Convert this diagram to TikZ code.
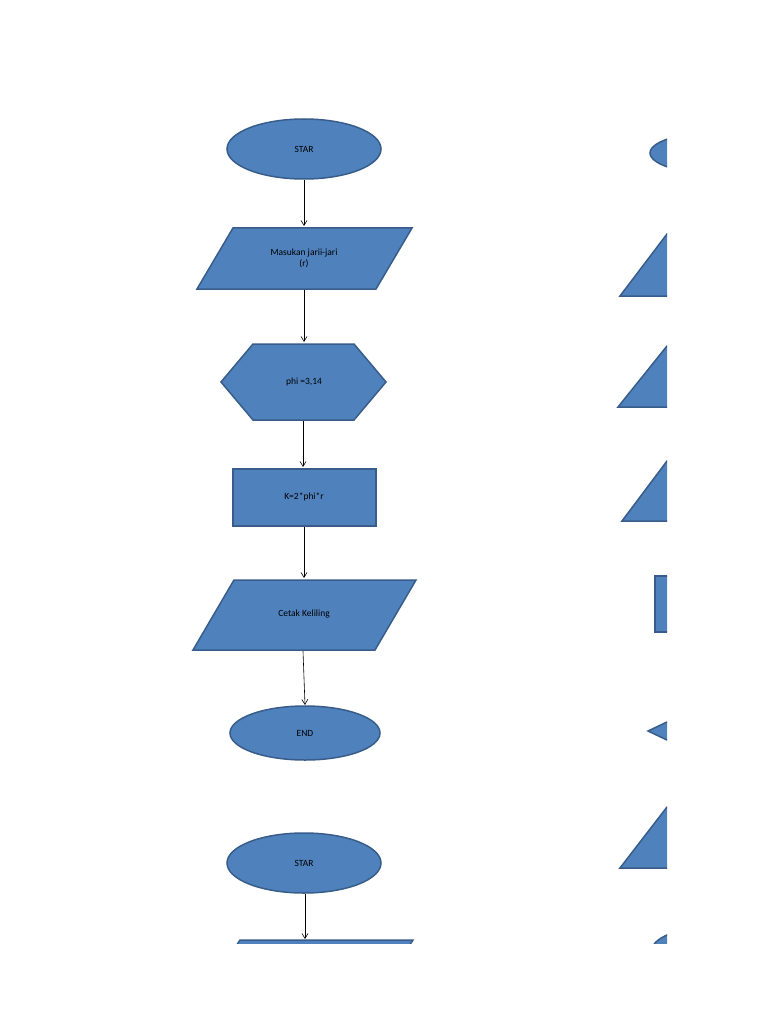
\documentclass[tikz,border=0pt]{standalone}
\usepackage{fontspec}
\setmainfont{Carlito}
\usetikzlibrary{arrows.meta}
\definecolor{fillb}{HTML}{4F81BD}
\definecolor{edgeb}{HTML}{385D8A}
\begin{document}
\begin{tikzpicture}[x=1pt,y=-1pt,
  shp/.style={fill=fillb,draw=edgeb,line width=1.5pt},
  txt/.style={font=\fontsize{9.5}{11}\selectfont,align=center,text=black},
  arr/.style={-{Straight Barb[length=5pt,width=6pt]},line width=0.6pt}]
\useasboundingbox[fill=white] (0,0) rectangle (768,1024);
\begin{scope}
\clip (0,0) rectangle (667,943);
% left column
\draw[shp] (304,149) ellipse (77 and 30);
\node[txt] (s1) at (304,149) {STAR};
\coordinate (s1b) at (304,180);
\draw[shp] (233,228) -- (412,228) -- (376,289) -- (197,289) -- cycle;
\node[txt] (in1) at (304,258) {Masukan jarii-jari\\(r)};
\coordinate (in1t) at (304,226); \coordinate (in1b) at (304,290);
\draw[shp] (221,382) -- (253,344) -- (354,344) -- (386,382) -- (354,420) -- (253,420) -- cycle;
\node[txt] (hx) at (304,382) {phi =3,14};
\coordinate (hxt) at (304,342); \coordinate (hxb) at (303,421);
\draw[shp] (233,469) rectangle (376,526);
\node[txt] (pr) at (304,497) {K=2*phi*r};
\coordinate (prt) at (303,467); \coordinate (prb) at (304,527);
\draw[shp] (234,580) -- (416,580) -- (375,650) -- (193,650) -- cycle;
\node[txt] (out) at (304,614) {Cetak Keliling};
\coordinate (outt) at (304,578); \coordinate (outb) at (303,651);
\draw[shp] (305,733) ellipse (75 and 27);
\node[txt] (e1) at (305,733) {END};
\coordinate (e1t) at (305,705);
\draw[shp] (304,863) ellipse (77 and 30);
\node[txt] (s2) at (304,863) {STAR};
\coordinate (s2b) at (305,894);
\draw[shp] (240,940) -- (413,940) -- (400,960) -- (227,960) -- cycle;
\coordinate (in2t) at (305,939);
\draw[arr] (s1b) -- (in1t);
\draw[arr] (in1b) -- (hxt);
\draw[arr] (hxb) -- (prt);
\draw[arr] (prb) -- (outt);
\draw[arr] (outb) -- (e1t);
\draw[arr] (s2b) -- (in2t);
% right column (cut off)
\draw[shp] (727,153) ellipse (77 and 22);
\draw[shp] (667,234) -- (720,234) -- (700,296) -- (620,296) -- cycle;
\draw[shp] (667,346) -- (720,346) -- (700,407) -- (618,407) -- cycle;
\draw[shp] (667,461) -- (720,461) -- (700,521) -- (622,521) -- cycle;
\draw[shp] (655,576) rectangle (720,632);
\draw[shp] (648,731) -- (667,722) -- (720,722) -- (720,740) -- (667,740) -- cycle;
\draw[shp] (667,807) -- (720,807) -- (700,868) -- (620,868) -- cycle;
\draw[shp] (727,950) ellipse (75 and 25);
\end{scope}
\end{tikzpicture}
\end{document}
